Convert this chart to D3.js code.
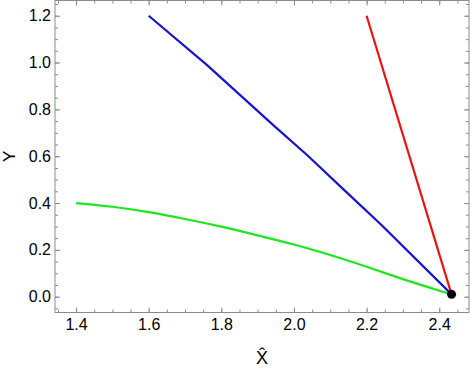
<!DOCTYPE html>
<html>
<head>
    <meta charset="utf-8">
    <style>
        body { margin: 0; background: #fff; }
        text { font-family: "Liberation Sans", Arial, sans-serif; fill: #000; }
        .frame { fill: none; stroke: #8c8c8c; stroke-width: 1px; }
        .tick line { stroke: #8c8c8c; }
        .tick text { font-size: 16px; }
        .curve { fill: none; stroke-width: 2.2px; }
    </style>
</head>
<body>
<div id="chart"></div>
<script src="https://cdn.jsdelivr.net/npm/d3@7"></script>
<script>

    // tick labels
    var xTicks = [1.4, 1.6, 1.8, 2.0, 2.2, 2.4];
    var yTicks = [0.0, 0.2, 0.4, 0.6, 0.8, 1.0, 1.2];

    // green curve
    var greenX = [1.4, 1.5, 1.6, 1.7, 1.8, 1.9, 2.0, 2.1, 2.2, 2.3, 2.4, 2.434];
    var greenY = [0.40, 0.384, 0.361, 0.332, 0.299, 0.262, 0.223, 0.178, 0.128, 0.075, 0.026, 0.01];

    // blue line
    var blueX = [1.6, 1.76, 1.943, 2.039, 2.14, 2.241, 2.434];
    var blueY = [1.2, 0.99, 0.733, 0.601, 0.453, 0.306, 0.01];

    // red line
    var redX = [2.2, 2.434];
    var redY = [1.2, 0.01];

    // end point
    var dotX = [2.434];
    var dotY = [0.01];

    var width = 474;
    var height = 370;
    var plotLeft = 55, plotRight = 469, plotTop = 0.5, plotBottom = 312.5;

    var svg = d3.select("#chart").append("svg")
        .attr("width", width)
        .attr("height", height);

    var x = d3.scaleLinear().domain([1.342, 2.482]).range([plotLeft, plotRight]);
    var y = d3.scaleLinear().domain([-0.0675, 1.265]).range([plotBottom, plotTop]);

    var minorX = d3.range(1.35, 2.481, 0.05);
    var minorY = d3.range(-0.05, 1.26, 0.05);

    function fmt(d) {
        return d3.format(".1f")(d);
    }

    function addAxis(axis, tx, ty) {
        var g = svg.append("g")
            .attr("transform", "translate(" + tx + "," + ty + ")")
            .call(axis);
        g.select(".domain").remove();
        g.attr("font-family", null).attr("font-size", null);
        return g;
    }

    // minor ticks
    addAxis(d3.axisBottom(x).tickValues(minorX).tickSize(-3).tickFormat(""), 0, plotBottom);
    addAxis(d3.axisTop(x).tickValues(minorX).tickSize(-3).tickFormat(""), 0, plotTop);
    addAxis(d3.axisLeft(y).tickValues(minorY).tickSize(-3).tickFormat(""), plotLeft, 0);
    addAxis(d3.axisRight(y).tickValues(minorY).tickSize(-3).tickFormat(""), plotRight, 0);

    // major ticks
    addAxis(d3.axisBottom(x).tickValues(xTicks).tickSize(-5).tickPadding(6).tickFormat(fmt), 0, plotBottom);
    addAxis(d3.axisTop(x).tickValues(xTicks).tickSize(-5).tickFormat(""), 0, plotTop);
    addAxis(d3.axisLeft(y).tickValues(yTicks).tickSize(-5).tickPadding(4).tickFormat(fmt), plotLeft, 0);
    addAxis(d3.axisRight(y).tickValues(yTicks).tickSize(-5).tickFormat(""), plotRight, 0);

    svg.append("rect")
        .attr("class", "frame")
        .attr("x", plotLeft)
        .attr("y", plotTop)
        .attr("width", plotRight - plotLeft)
        .attr("height", plotBottom - plotTop);

    function drawCurve(xs, ys, color, curve) {
        var pts = xs.map(function (d, i) {
            return [d, ys[i]];
        });
        var line = d3.line()
            .x(function (d) { return x(d[0]); })
            .y(function (d) { return y(d[1]); })
            .curve(curve);
        svg.append("path")
            .attr("class", "curve")
            .attr("stroke", color)
            .attr("d", line(pts));
    }

    drawCurve(greenX, greenY, "#1ee61e", d3.curveCatmullRom);
    drawCurve(blueX, blueY, "#1414d2", d3.curveLinear);
    drawCurve(redX, redY, "#e81414", d3.curveLinear);

    svg.selectAll("circle.dot")
        .data(dotX)
        .enter()
        .append("circle")
        .attr("class", "dot")
        .attr("cx", function (d) { return x(d); })
        .attr("cy", function (d, i) { return y(dotY[i]); })
        .attr("r", 4.5)
        .attr("fill", "#000");

    // axis titles
    svg.append("text")
        .attr("x", (plotLeft + plotRight) / 2)
        .attr("y", 364)
        .attr("text-anchor", "middle")
        .style("font-size", "18px")
        .text("X\u0302");

    svg.append("text")
        .attr("transform", "translate(15," + y(0.6) + ") rotate(-90)")
        .attr("text-anchor", "middle")
        .style("font-size", "17px")
        .text("Y");

</script>
</body>
</html>
